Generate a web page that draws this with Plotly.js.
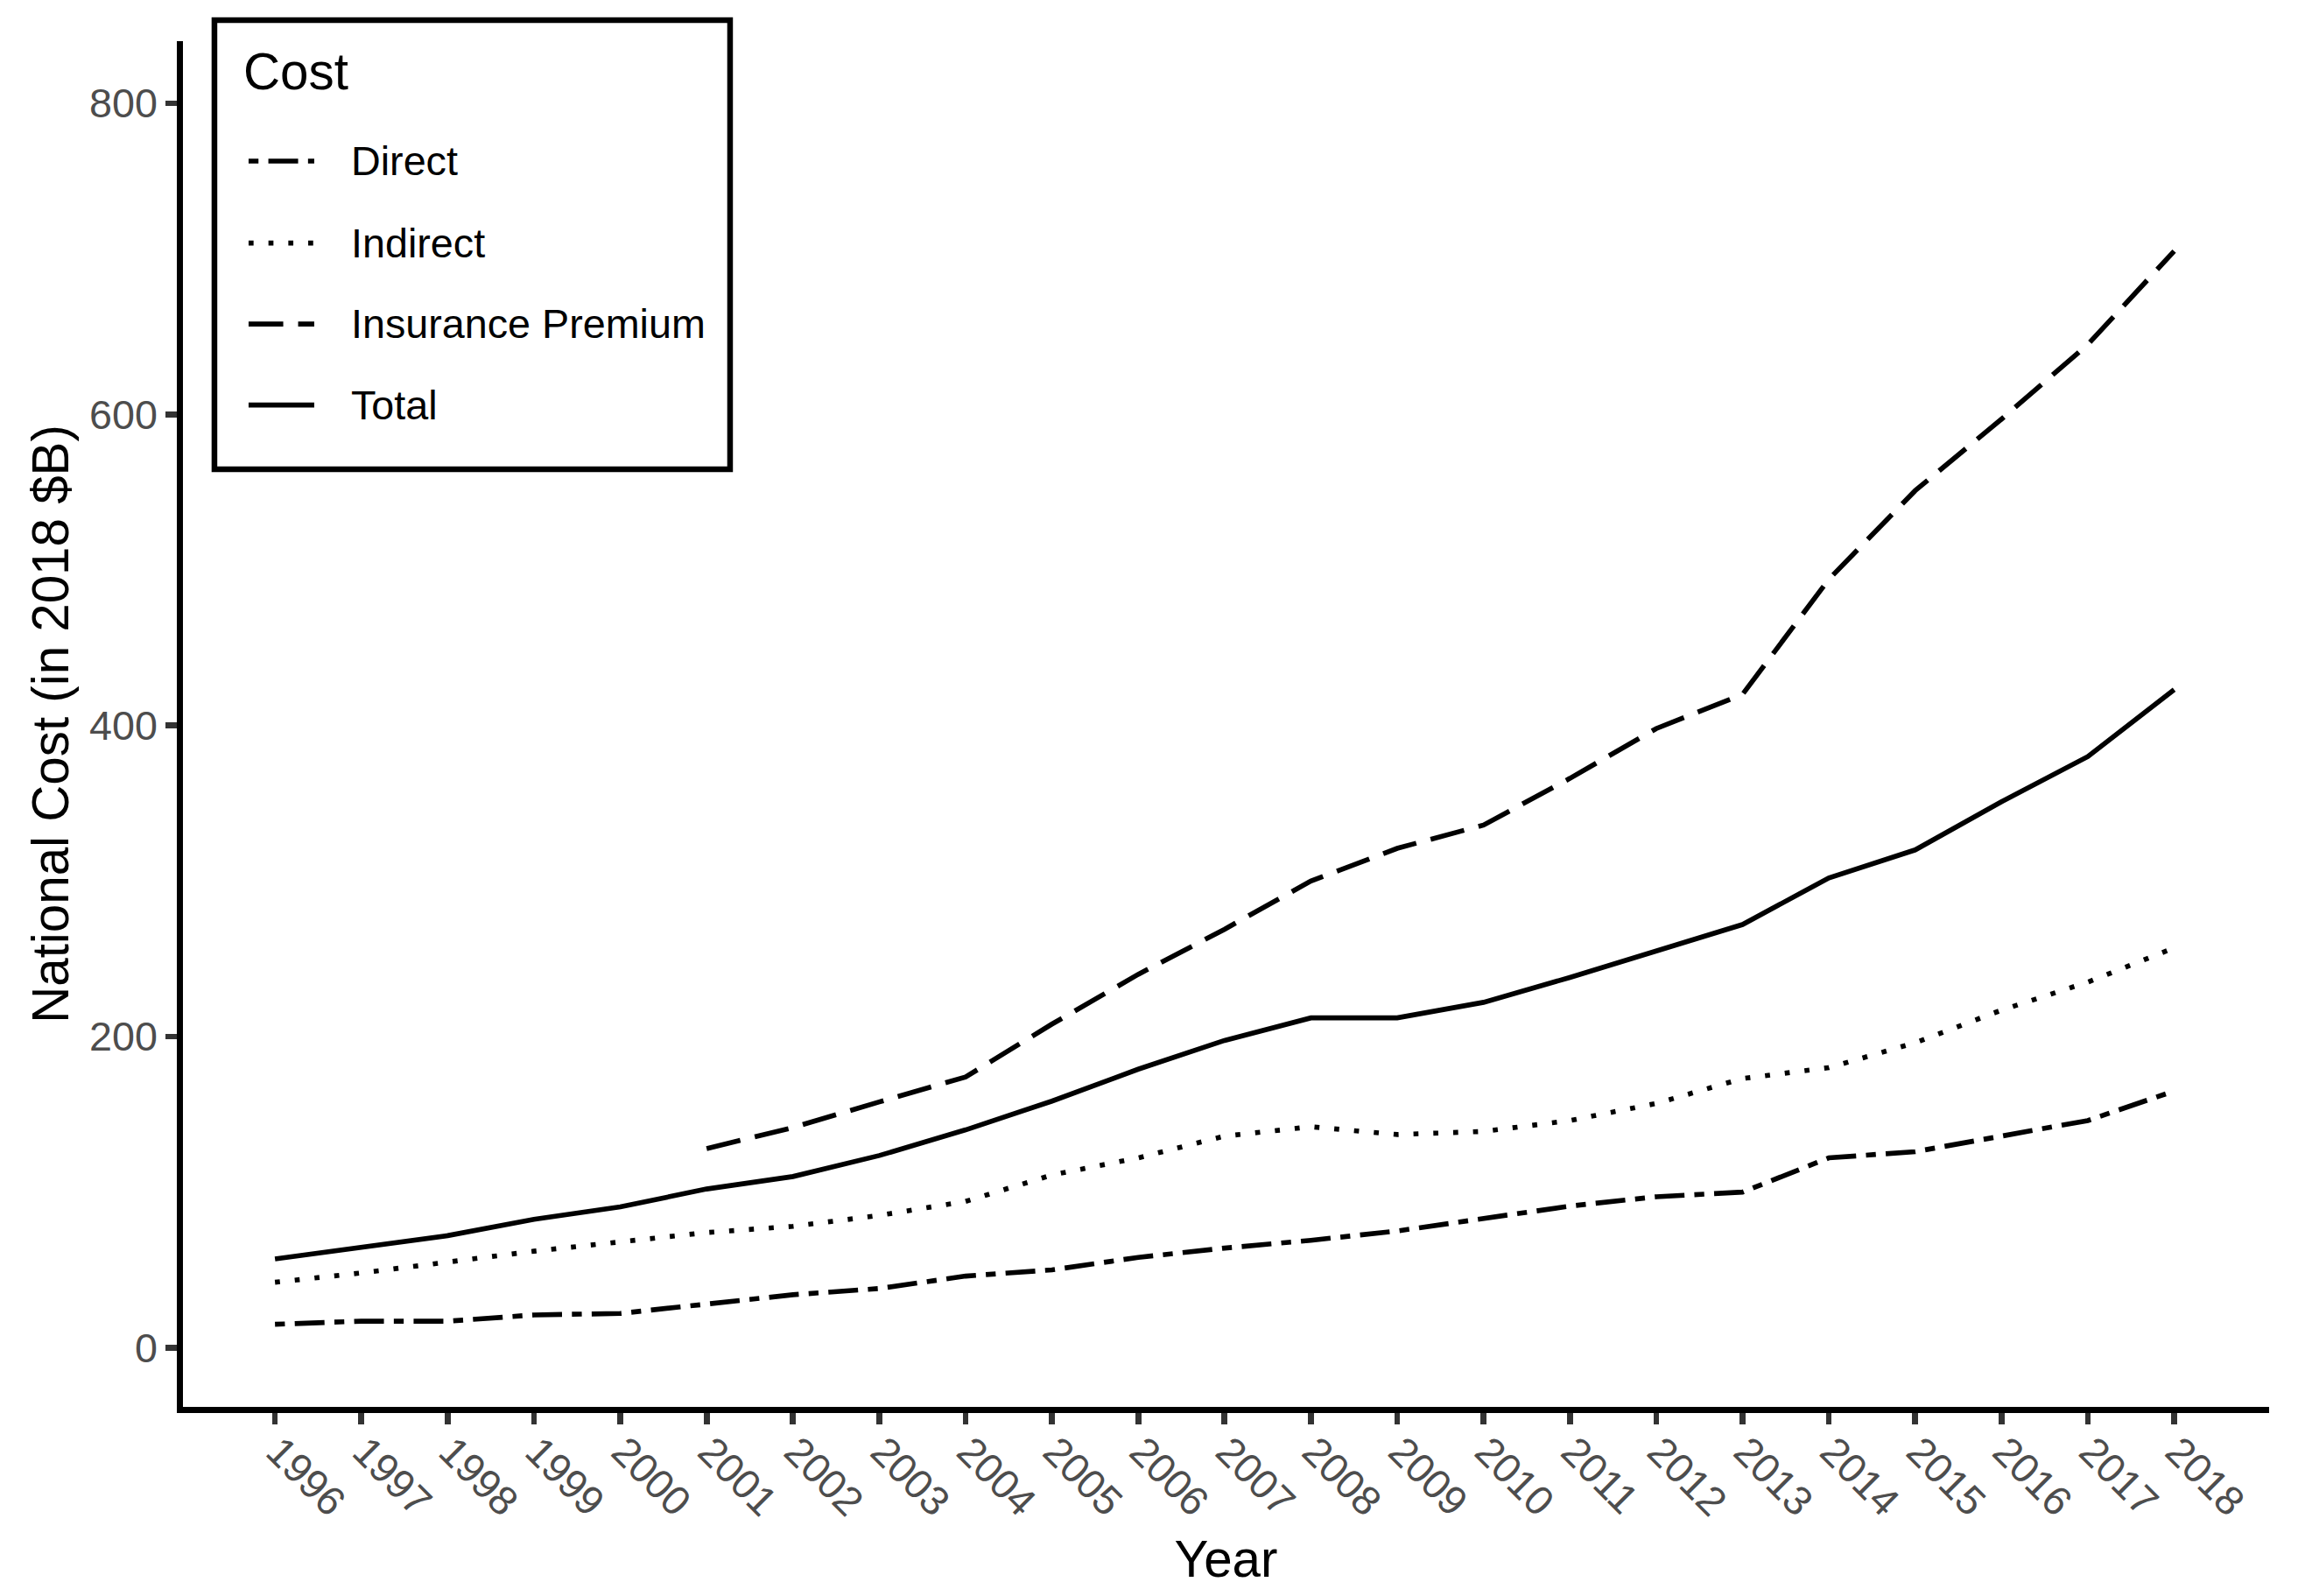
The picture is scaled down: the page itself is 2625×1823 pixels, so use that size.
<!DOCTYPE html>
<html>
<head>
<meta charset="utf-8">
<script src="https://cdn.plot.ly/plotly-3.0.1.min.js"></script>
<style>
html,body{margin:0;padding:0;background:#fff;}
#chart{width:2625px;height:1823px;}
</style>
</head>
<body>
<div id="chart"></div>
<script>
// ---- data ----
const years = [1996,1997,1998,1999,2000,2001,2002,2003,2004,2005,2006,2007,2008,2009,2010,2011,2012,2013,2014,2015,2016,2017,2018];
const direct = [15,17,17,21,22,28,34,38,46,50,58,64,69,75,83,91,97,100,122,126,136,146,165];
const indirect = [42,48,55,62,68,74,78,85,94,111,122,136,142,137,139,146,157,173,180,196,217,235,257];
const premiumYears = [2001,2002,2003,2004,2005,2006,2007,2008,2009,2010,2011,2012,2013,2014,2015,2016,2017,2018];
const premium = [128,141.5,158,174,208,240,269,300,321,336,366,398,420,494,551,597,645,705];
const total = [57,64.5,72,82.5,90.5,102,110,123.5,140,158.5,179,197.5,212,212,222,238,255,272,302,320,351,380,423];
const seriesNames = ['Direct','Indirect','Insurance Premium','Total'];
const yTicks = [0,200,400,600,800];
const xTickLabels = years.map(String);

// ---- styling ----
const W = 2625, H = 1823;
const AXW = 6.7;                 // axis line width
const L = 205.7 + AXW/2, R = 2592, T = 47, B = 1610 - AXW/2;
const FONT = 'Liberation Sans, Arial, Helvetica, sans-serif';
const u = 5.66; // line width / dash unit
const dashes = {
  'Direct': [2*u,2*u,6*u,2*u].map(v=>v.toFixed(1)+'px').join(','),
  'Indirect': [1*u,3*u].map(v=>v.toFixed(1)+'px').join(','),
  'Insurance Premium': [7*u,3*u].map(v=>v.toFixed(1)+'px').join(','),
  'Total': 'solid'
};
// reference panel: x [1994.9, 2019.1] over 205.7..2592, y [-40, 840] over 1610..47
const pxPerYear = (2592 - 205.7) / 24.2;
const pxPerUnit = (1610 - 47) / 880;
const xRange = [1994.9 + (L - 205.7) / pxPerYear, 1994.9 + (R - 205.7) / pxPerYear];
const yRange = [-40 + (1610 - B) / pxPerUnit, 840];

const xs = [years, years, premiumYears, years];
const ys = [direct, indirect, premium, total];
const traces = seriesNames.map((n,i)=>({
  type:'scatter', mode:'lines', name:n, x:xs[i], y:ys[i],
  line:{color:'#000000', width:u, dash:dashes[n]},
  showlegend:false, hoverinfo:'skip'
}));

const px2x = p => (p - L)/(R - L);
const px2y = p => (B - p)/(B - T);

const shapes = [];
const annotations = [];
// legend box
shapes.push({type:'rect', xref:'paper', yref:'paper', x0:px2x(245), x1:px2x(834), y0:px2y(536), y1:px2y(23),
  line:{color:'#000', width:6.5}, fillcolor:'#fff', layer:'above'});
annotations.push({xref:'paper', yref:'paper', x:px2x(276), y:px2y(81), xanchor:'left', yanchor:'middle',
  text:'Cost', showarrow:false, font:{family:FONT, size:58.3, color:'#000'}});
const itemY = [184, 277.5, 370, 462.5];
seriesNames.forEach((n,i)=>{
  shapes.push({type:'line', xref:'paper', yref:'paper', x0:px2x(284), x1:px2x(359), y0:px2y(itemY[i]), y1:px2y(itemY[i]),
    line:{color:'#000', width:u, dash:dashes[n]}, layer:'above'});
  annotations.push({xref:'paper', yref:'paper', x:px2x(399), y:px2y(itemY[i]), xanchor:'left', yanchor:'middle',
    text:n, showarrow:false, font:{family:FONT, size:46.7, color:'#000'}});
});

const layout = {
  width:W, height:H,
  margin:{l:L, r:W-R, t:T, b:H-B, pad:0},
  paper_bgcolor:'#fff', plot_bgcolor:'#fff',
  font:{family:FONT, color:'#000'},
  showlegend:false,
  xaxis:{
    range:xRange, tickmode:'array', tickvals:years, ticktext:xTickLabels,
    tickangle:45, ticks:'outside', ticklen:13, tickwidth:AXW, tickcolor:'#333333',
    ticklabelshift:4, ticklabelstandoff:-15,
    tickfont:{family:FONT, size:46.7, color:'#4D4D4D'},
    showline:true, linecolor:'#000', linewidth:AXW, showgrid:false, zeroline:false,
    title:{text:'Year', font:{family:FONT, size:58.3, color:'#000'}, standoff:22}
  },
  yaxis:{
    range:yRange, tickmode:'array', tickvals:yTicks, ticktext:yTicks.map(String),
    ticks:'outside', ticklen:13, tickwidth:AXW, tickcolor:'#333333',
    tickfont:{family:FONT, size:46.7, color:'#4D4D4D'},
    showline:true, linecolor:'#000', linewidth:AXW, showgrid:false, zeroline:false,
    title:{text:'National Cost (in 2018 $B)', font:{family:FONT, size:58.3, color:'#000'}, standoff:7}
  },
  shapes:shapes, annotations:annotations
};

Plotly.newPlot('chart', traces, layout, {staticPlot:true, displayModeBar:false});
</script>
</body>
</html>
